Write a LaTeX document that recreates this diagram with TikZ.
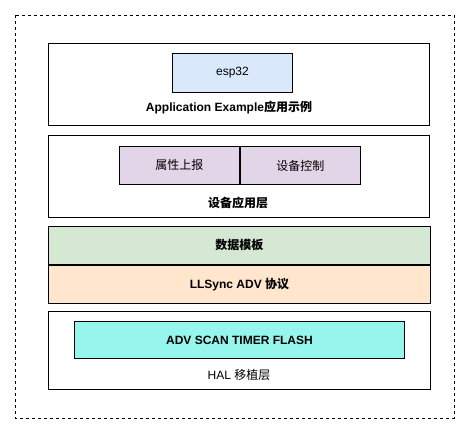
\documentclass[tikz,border=0pt]{standalone}
\usepackage{fontspec}
\setmainfont{Liberation Sans}
\newfontfamily\cjk{Noto Sans CJK SC}
\usepackage{tikz}
\usepackage{xcolor}
\usetikzlibrary{positioning, calc}

\definecolor{bluefill}{HTML}{DAE8FC}
\definecolor{purplefill}{HTML}{E1D5E7}
\definecolor{greenfill}{HTML}{D5E8D4}
\definecolor{orangefill}{HTML}{FFE6CC}
\definecolor{cyanfill}{HTML}{96F6ED}

\tikzset{
    layer/.style={draw=black, line width=0.9pt, fill=white, inner sep=0pt, anchor=north west},
    block/.style={draw=black, line width=0.9pt, inner sep=0pt, anchor=north west},
    txt/.style={font=\fontsize{12}{14}\selectfont},
    btxt/.style={font=\fontsize{12}{14}\selectfont\bfseries}
}

\begin{document}
\begin{tikzpicture}[x=1pt, y=-1pt]
    \useasboundingbox (0,0) rectangle (470,433);

    % Outer dashed frame
    \draw[dashed, line width=0.7pt] (15,15) rectangle (454,418);

    % Application example layer
    \node[layer, minimum width=381pt, minimum height=82pt] (app) at (48,43) {};
    \node[block, fill=bluefill, minimum width=120pt, minimum height=39pt] (esp) at (172,53) {};
    \node[txt] at (esp.center) {esp32};
    \node[btxt] (applabel) at (229,108) {Application Example{\cjk 应用示例}};

    % Device application layer
    \node[layer, minimum width=381pt, minimum height=82pt] (dev) at (48,135) {};
    \node[block, fill=purplefill, minimum width=120pt, minimum height=38pt] (attr) at (119,146) {};
    \node[block, fill=purplefill, minimum width=120pt, minimum height=38pt] (ctrl) at (attr.north east) {};
    \node[txt] at (attr.center) {\cjk 属性上报};
    \node[txt] at (ctrl.center) {\cjk 设备控制};
    \node[btxt] (devlabel) at (238,203) {\cjk 设备应用层};

    % Data template and LLSync protocol
    \node[block, fill=greenfill, minimum width=382pt, minimum height=38pt] (tmpl) at (48,226) {};
    \node[btxt] at (tmpl.center) {\cjk 数据模板};
    \node[block, fill=orangefill, minimum width=382pt, minimum height=38pt] (llsync) at (tmpl.south west) {};
    \node[btxt] at (llsync.center) {LLSync ADV {\cjk 协议}};

    % HAL layer
    \node[layer, minimum width=382pt, minimum height=78pt] (hal) at (48,311) {};
    \node[block, fill=cyanfill, minimum width=330pt, minimum height=37pt] (drv) at (74,321) {};
    \node[btxt] at (drv.center) {ADV SCAN TIMER FLASH};
    \node[txt] (hallabel) at (239,375) {HAL {\cjk 移植层}};
\end{tikzpicture}
\end{document}
